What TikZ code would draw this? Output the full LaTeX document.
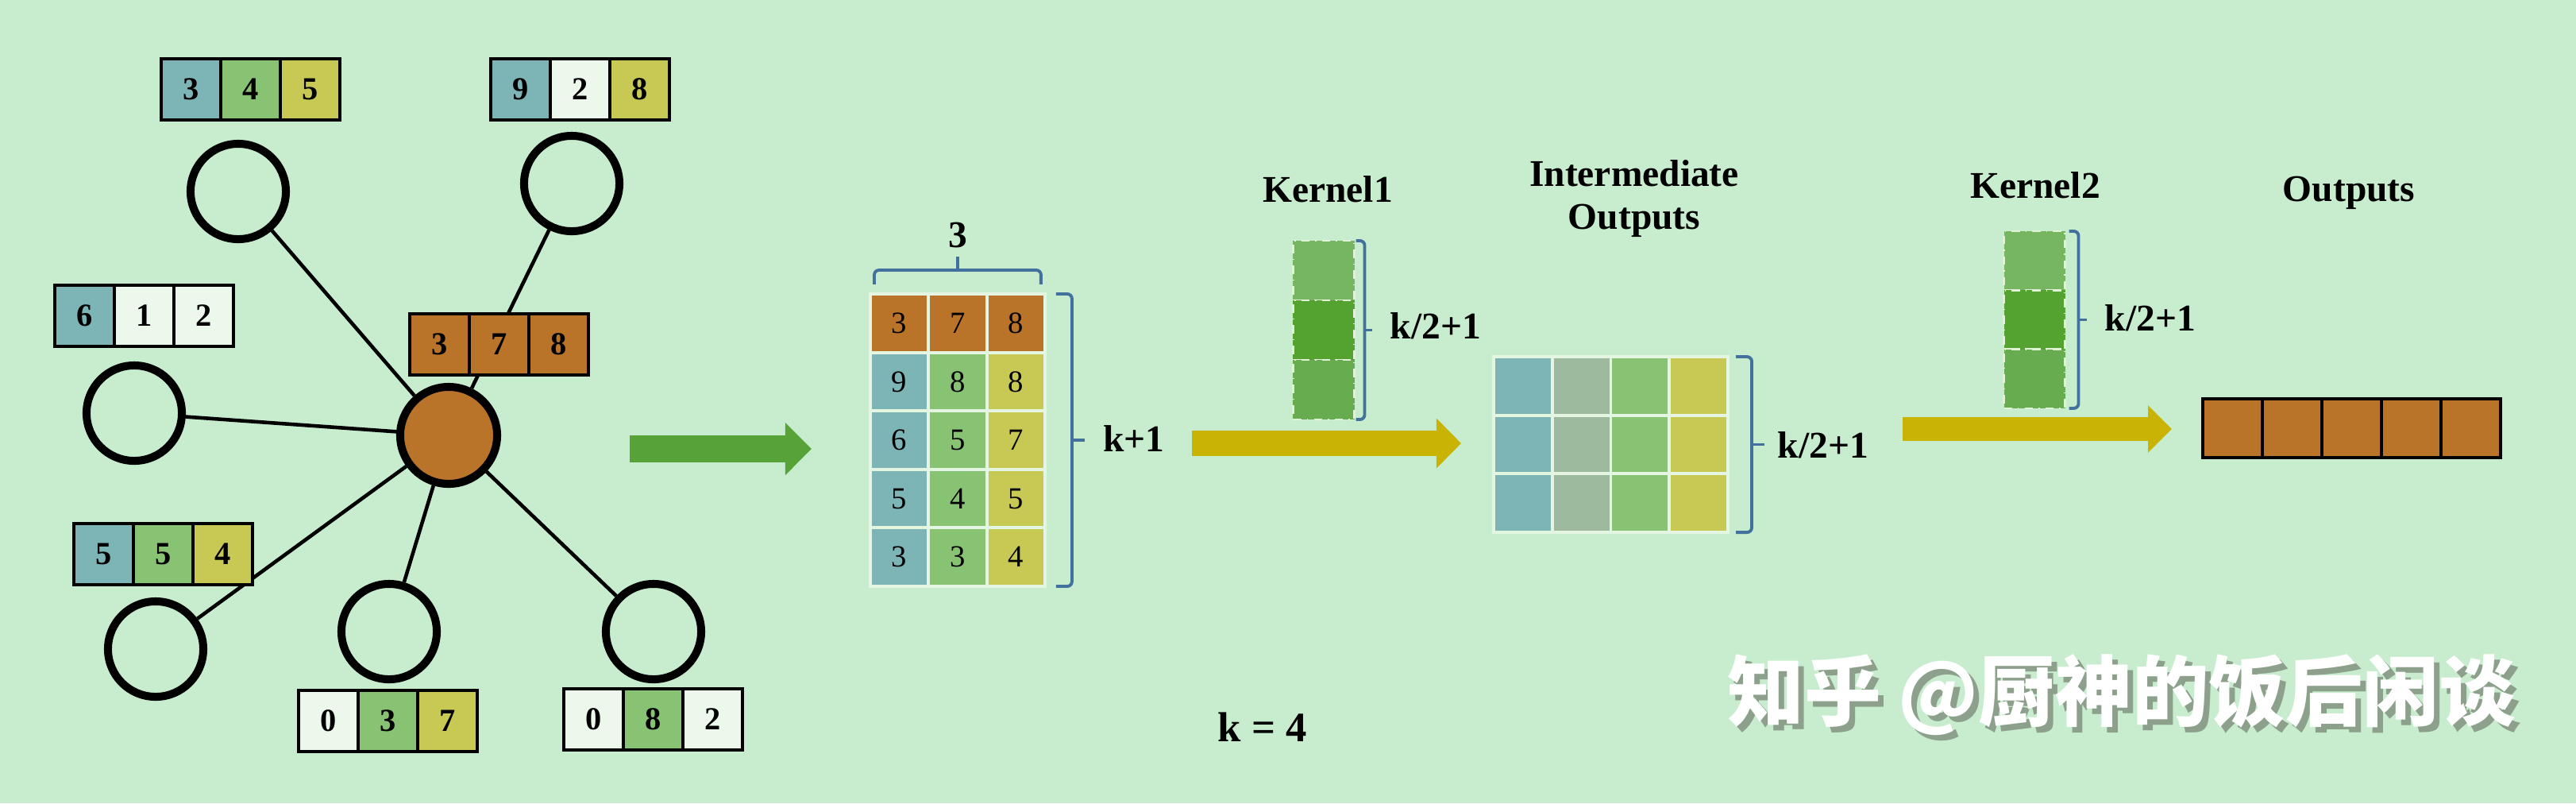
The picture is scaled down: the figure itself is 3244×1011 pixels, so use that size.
\documentclass[tikz,border=0pt]{standalone}
\usepackage{fontspec}
\setmainfont{Liberation Serif}
\newfontfamily\cjkfont{Noto Sans CJK SC}
\usetikzlibrary{positioning,arrows.meta}

\definecolor{bgmint}{RGB}{200,237,206}
\definecolor{hubor}{RGB}{185,116,42}
\definecolor{tealc}{RGB}{125,180,182}
\definecolor{greenc}{RGB}{135,195,115}
\definecolor{yellc}{RGB}{200,200,85}
\definecolor{grayc}{RGB}{157,186,158}
\definecolor{palec}{RGB}{236,248,236}
\definecolor{sepc}{RGB}{228,245,226}
\definecolor{ktop}{RGB}{118,182,96}
\definecolor{kmid}{RGB}{84,163,48}
\definecolor{kbot}{RGB}{104,172,80}
\definecolor{kedge}{RGB}{226,242,216}
\definecolor{bracec}{RGB}{65,113,156}
\definecolor{arrowgreen}{RGB}{88,163,56}
\definecolor{arrowyell}{RGB}{201,180,6}
\definecolor{shadowc}{RGB}{140,160,140}

\begin{document}
\begin{tikzpicture}[x=0.01cm, y=-0.01cm,
    leaf/.style={circle, draw, line width=2.85pt, fill=bgmint, minimum size=1.2cm, inner sep=0pt},
    hub/.style={leaf, fill=hubor, minimum size=1.22cm},
    feat/.style={draw, line width=1.1pt, minimum width=0.75cm, minimum height=0.77cm, inner sep=0pt, outer sep=0pt, font=\bfseries\fontsize{11.5}{12}\selectfont},
    mcell/.style={draw=sepc, line width=1.1pt, minimum width=0.733cm, minimum height=0.736cm, inner sep=0pt, outer sep=0pt, font=\fontsize{11}{12}\selectfont},
    kcell/.style={draw=kedge, dash dot, line width=0.8pt, minimum width=0.77cm, minimum height=0.75cm, inner sep=0pt, outer sep=0pt},
    brk/.style={draw=bracec, line width=1.1pt, rounded corners=0.06cm},
    lbl/.style={font=\bfseries\fontsize{13.5}{15.5}\selectfont, inner sep=0pt, align=center},
    blockarrow/.style={line width=0.32cm, -{Triangle[length=0.31cm, width=0.61cm]}}
  ]
  \useasboundingbox (0,0) rectangle (3244,1011);
  \fill[bgmint] (0,0) rectangle (3244,1011);

  %Grafo: no central e vizinhos
  \node[hub] (hub) at (565,548) {};
  \node[leaf] (n1) at (300,241) {};
  \node[leaf] (n2) at (720,231) {};
  \node[leaf] (n3) at (169,520) {};
  \node[leaf] (n4) at (196,817) {};
  \node[leaf] (n5) at (490,795) {};
  \node[leaf] (n6) at (823,795) {};
  \foreach \n in {n1,n2,n3,n4,n5,n6}
    \draw[line width=1.3pt] (hub) -- (\n);

  %Atributos dos nos
  \node[feat, fill=tealc, anchor=north west] (f1a) at (203,74) {3};
  \node[feat, fill=greenc, right=0pt of f1a] (f1b) {4};
  \node[feat, fill=yellc, right=0pt of f1b] (f1c) {5};

  \node[feat, fill=tealc, anchor=north west] (f2a) at (618,74) {9};
  \node[feat, fill=palec, right=0pt of f2a] (f2b) {2};
  \node[feat, fill=yellc, right=0pt of f2b] (f2c) {8};

  \node[feat, fill=tealc, anchor=north west] (f3a) at (69,359) {6};
  \node[feat, fill=palec, right=0pt of f3a] (f3b) {1};
  \node[feat, fill=palec, right=0pt of f3b] (f3c) {2};

  \node[feat, fill=hubor, anchor=north west] (fha) at (516,395) {3};
  \node[feat, fill=hubor, right=0pt of fha] (fhb) {7};
  \node[feat, fill=hubor, right=0pt of fhb] (fhc) {8};

  \node[feat, fill=tealc, anchor=north west] (f4a) at (93,659) {5};
  \node[feat, fill=greenc, right=0pt of f4a] (f4b) {5};
  \node[feat, fill=yellc, right=0pt of f4b] (f4c) {4};

  \node[feat, fill=palec, anchor=north west] (f5a) at (376,869) {0};
  \node[feat, fill=greenc, right=0pt of f5a] (f5b) {3};
  \node[feat, fill=yellc, right=0pt of f5b] (f5c) {7};

  \node[feat, fill=palec, anchor=north west] (f6a) at (710,867) {0};
  \node[feat, fill=greenc, right=0pt of f6a] (f6b) {8};
  \node[feat, fill=palec, right=0pt of f6b] (f6c) {2};

  %Seta verde
  \coordinate (ga0) at (793,565);
  \coordinate (ga1) at (1022,565);
  \draw[blockarrow, arrowgreen, line width=0.34cm, -{Triangle[length=0.33cm, width=0.64cm]}] (ga0) -- (ga1);

  %Matriz de entrada
  \foreach \row [count=\r] in {{hubor/3,hubor/7,hubor/8},{tealc/9,greenc/8,yellc/8},{tealc/6,greenc/5,yellc/7},{tealc/5,greenc/4,yellc/5},{tealc/3,greenc/3,yellc/4}}
    \foreach \fc/\v [count=\c] in \row
      \node[mcell, fill=\fc] (m-\r-\c) at ({1096+73.3*(\c-0.5)},{370+73.6*(\r-0.5)}) {\v};
  \draw[brk] ([xshift=0.05cm,yshift=0.12cm]m-1-1.north west) -- ++(0,-18) -| ([xshift=-0.05cm,yshift=0.12cm]m-1-3.north east);
  \draw[brk] ([yshift=0.30cm]m-1-2.north) -- ++(0,-17);
  \node[lbl] (ncols) at (1206,296) {3};
  \draw[brk] ([xshift=0.14cm]m-1-3.north east) -- ++(20,0) |- ([xshift=0.14cm]m-5-3.south east);
  \draw[brk] ([xshift=0.34cm]m-3-3.east) -- ++(16,0);
  \node[lbl] (nrows) at (1428,552) {k+1};

  %Kernel1
  \foreach \fc [count=\r] in {ktop,kmid,kbot}
    \node[kcell, fill=\fc] (ka-\r) at (1667,{303+75*(\r-0.5)}) {};
  \draw[brk] ([xshift=0.02cm]ka-1.north east) -- ++(11,0) |- ([xshift=0.02cm]ka-3.south east);
  \draw[brk] ([xshift=0.13cm]ka-2.east) -- ++(9,0);
  \node[lbl] (kone) at (1672,238) {Kernel1};
  \node[lbl] (kaside) at (1808,410) {k/2+1};

  \coordinate (ya0) at (1501,558);
  \coordinate (ya1) at (1840,558);
  \draw[blockarrow, arrowyell] (ya0) -- (ya1);

  %Saidas intermediarias
  \foreach \fc [count=\c] in {tealc,grayc,greenc,yellc}
    \foreach \r in {1,2,3}
      \node[mcell, fill=\fc, minimum width=0.7375cm] (i-\r-\c) at ({1881+73.75*(\c-0.5)},{449+73.7*(\r-0.5)}) {};
  \draw[brk] ([xshift=0.1cm]i-1-4.north east) -- ++(20,0) |- ([xshift=0.1cm]i-3-4.south east);
  \draw[brk] ([xshift=0.3cm]i-2-4.east) -- ++(16,0);
  \node[lbl] (iside) at (2296,560) {k/2+1};
  \node[lbl] (inter) at (2058,250) {Intermediate\\Outputs};

  %Kernel2
  \foreach \fc [count=\r] in {ktop,kmid,kbot}
    \node[kcell, fill=\fc, minimum height=0.743cm] (kb-\r) at (2562,{291+74.3*(\r-0.5)}) {};
  \draw[brk] ([xshift=0.05cm]kb-1.north east) -- ++(12,0) |- ([xshift=0.05cm]kb-3.south east);
  \draw[brk] ([xshift=0.17cm]kb-2.east) -- ++(10,0);
  \node[lbl] (ktwo) at (2563,233) {Kernel2};
  \node[lbl] (kbside) at (2708,400) {k/2+1};

  \coordinate (yb0) at (2396,540);
  \coordinate (yb1) at (2735,540);
  \draw[blockarrow, arrowyell, line width=0.30cm, -{Triangle[length=0.30cm, width=0.58cm]}] (yb0) -- (yb1);

  %Saidas
  \foreach \c in {1,...,5}
    \node[feat, fill=hubor, minimum height=0.74cm] (o-\c) at ({2774+75*(\c-0.5)},539) {};
  \node[lbl] (outs) at (2958,243) {Outputs};

  \node[lbl, font=\bfseries\fontsize{15}{17}\selectfont] (kval) at (1590,915) {k = 4};

  %Marca d'agua
  \node[font=\cjkfont\bfseries\fontsize{27.5}{30}\selectfont, text=shadowc] (wmshadow) at (2679,882) {知乎 @厨神的饭后闲谈};
  \node[font=\cjkfont\bfseries\fontsize{27.5}{30}\selectfont, text=white] (wm) at (2672,875) {知乎 @厨神的饭后闲谈};
\end{tikzpicture}
\end{document}
